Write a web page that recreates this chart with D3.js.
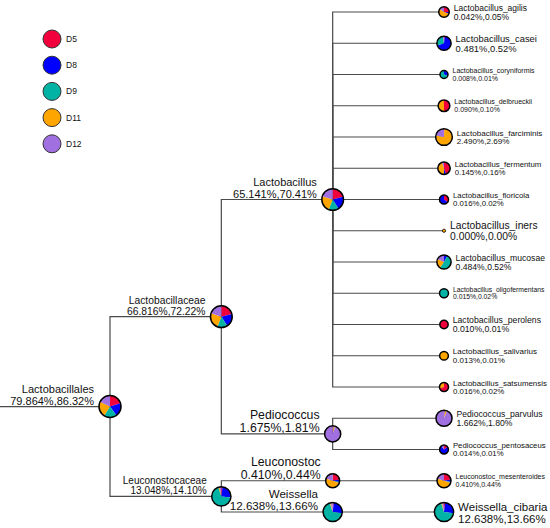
<!DOCTYPE html>
<html>
<head>
<meta charset="utf-8">
<script src="https://cdn.jsdelivr.net/npm/d3@7"></script>
<style>
  body { margin: 0; background: #fff; }
  svg { font-family: "Liberation Sans", Arial, sans-serif; }
</style>
</head>
<body>
<svg id="chart"></svg>
<script>
// sample groups (legend)
const samples = ["D5", "D8", "D9", "D11", "D12"];
const sampleColors = ["#f2003c", "#0000ff", "#00b3a4", "#ffa500", "#a070e0"];

// taxa of the tree, children listed in the order they are drawn
const taxa = [
  "Lactobacillales", "Lactobacillaceae", "Leuconostocaceae",
  "Lactobacillus", "Pediococcus", "Leuconostoc", "Weissella",
  "Lactobacillus_agilis", "Lactobacillus_casei", "Lactobacillus_coryniformis",
  "Lactobacillus_delbrueckii", "Lactobacillus_farciminis", "Lactobacillus_fermentum",
  "Lactobacillus_floricola", "Lactobacillus_iners", "Lactobacillus_mucosae",
  "Lactobacillus_oligofermentans", "Lactobacillus_perolens", "Lactobacillus_salivarius",
  "Lactobacillus_satsumensis", "Pediococcus_parvulus", "Pediococcus_pentosaceus",
  "Leuconostoc_mesenteroides", "Weissella_cibaria"
];
const parents = [
  "", "Lactobacillales", "Lactobacillales",
  "Lactobacillaceae", "Lactobacillaceae", "Leuconostocaceae", "Leuconostocaceae",
  "Lactobacillus", "Lactobacillus", "Lactobacillus",
  "Lactobacillus", "Lactobacillus", "Lactobacillus",
  "Lactobacillus", "Lactobacillus", "Lactobacillus",
  "Lactobacillus", "Lactobacillus", "Lactobacillus",
  "Lactobacillus", "Pediococcus", "Pediococcus",
  "Leuconostoc", "Weissella"
];
// first and second percentage in each label
const abundance = [
  79.864, 66.816, 13.048, 65.141, 1.675, 0.410, 12.638,
  0.042, 0.481, 0.008, 0.090, 2.490, 0.145, 0.016, 0.000, 0.484,
  0.015, 0.010, 0.013, 0.016, 1.662, 0.014, 0.410, 12.638
];
const relative = [
  86.32, 72.22, 14.10, 70.41, 1.81, 0.44, 13.66,
  0.05, 0.52, 0.01, 0.10, 2.69, 0.16, 0.02, 0.00, 0.52,
  0.02, 0.01, 0.01, 0.02, 1.80, 0.01, 0.44, 13.66
];

// share of each taxon coming from each sample (pie slices)
const shareD5  = [0.20, 0.21, 0.02, 0.21, 0.01, 0.22, 0.02, 0.25, 0.02, 0.00, 0.50, 0.01, 0.45, 0.35, 0, 0.00, 0, 1, 0, 0.70, 0.01, 0.15, 0.22, 0.02];
const shareD8  = [0.20, 0.20, 0.25, 0.20, 0.01, 0.06, 0.25, 0.05, 0.68, 0.30, 0.00, 0.00, 0.05, 0.65, 0, 0.08, 0, 0, 0, 0.00, 0.01, 0.75, 0.06, 0.25];
const shareD9  = [0.19, 0.15, 0.68, 0.15, 0.00, 0.02, 0.68, 0.00, 0.28, 0.70, 0.00, 0.00, 0.00, 0.00, 0, 0.52, 1, 0, 0, 0.00, 0.00, 0.00, 0.02, 0.68];
const shareD11 = [0.23, 0.24, 0.02, 0.24, 0.03, 0.50, 0.02, 0.55, 0.00, 0.00, 0.50, 0.77, 0.45, 0.00, 1, 0.22, 0, 0, 1, 0.30, 0.04, 0.00, 0.50, 0.02];
const shareD12 = [0.18, 0.20, 0.03, 0.20, 0.95, 0.20, 0.03, 0.15, 0.02, 0.00, 0.00, 0.22, 0.05, 0.00, 0, 0.18, 0, 0, 0, 0.00, 0.94, 0.10, 0.20, 0.03];

// label font sizes (px), as drawn in the original
const labelFont = {
  Lactobacillales: 11, Lactobacillaceae: 10.3, Leuconostocaceae: 10,
  Lactobacillus: 11, Pediococcus: 12.3, Leuconostoc: 12.3, Weissella: 11.6,
  Lactobacillus_agilis: 8.5, Lactobacillus_casei: 9.4, Lactobacillus_coryniformis: 7,
  Lactobacillus_delbrueckii: 7, Lactobacillus_farciminis: 8.1, Lactobacillus_fermentum: 7.8,
  Lactobacillus_floricola: 7.8, Lactobacillus_iners: 10.3, Lactobacillus_mucosae: 8.6,
  Lactobacillus_oligofermentans: 6.8, Lactobacillus_perolens: 8.7, Lactobacillus_salivarius: 8,
  Lactobacillus_satsumensis: 7.9, Pediococcus_parvulus: 8.6, Pediococcus_pentosaceus: 7.8,
  Leuconostoc_mesenteroides: 7, Weissella_cibaria: 11.5
};

const width = 550;
const height = 528;
const svg = d3.select("#chart").attr("width", width).attr("height", height);

const shares = [shareD5, shareD8, shareD9, shareD11, shareD12];
const rows = taxa.map((name, i) => ({
  name: name,
  parent: parents[i] || null,
  abundance: abundance[i],
  relative: relative[i],
  shares: shares.map((s) => s[i])
}));

const root = d3.stratify().id((d) => d.name).parentId((d) => d.parent)(rows);
d3.cluster().size([1, 1]).separation(() => 1)(root);

// scales
const yScale = d3.scaleLinear()
  .domain(d3.extent(root.leaves(), (d) => d.x))
  .range([12, 512]);
const xScale = d3.scaleLinear().domain([0, 1]).range([110, 444]);
const rScale = d3.scaleLog().domain([0.008, 80]).range([4, 11]).clamp(true);
const color = d3.scaleOrdinal().domain(samples).range(sampleColors);

const X = (d) => xScale(d.y);
const Y = (d) => yScale(d.x);
const R = (d) => (d.data.abundance > 0 ? rScale(d.data.abundance) : 1.6);
const pctA = d3.format(".3f");
const pctB = d3.format(".2f");

// links
const linkG = svg.append("g")
  .attr("fill", "none")
  .attr("stroke", "#4a4a4a")
  .attr("stroke-width", 1.2);

linkG.append("line")
  .attr("x1", 0)
  .attr("x2", X(root))
  .attr("y1", Y(root))
  .attr("y2", Y(root));

linkG.selectAll("path")
  .data(root.links())
  .join("path")
  .attr("d", (l) => `M${X(l.source)},${Y(l.source)}V${Y(l.target)}H${X(l.target)}`);

// pies
const pie = d3.pie().sort(null);
const arc = d3.arc().innerRadius(0);

const nodes = svg.append("g")
  .selectAll("g")
  .data(root.descendants())
  .join("g")
  .attr("transform", (d) => `translate(${X(d)},${Y(d)})`);

nodes.each(function (d) {
  const g = d3.select(this);
  const r = R(d);
  g.selectAll("path")
    .data(pie(d.data.shares).map((p, i) => ({ ...p, sample: samples[i] })).filter((p) => p.value > 0))
    .join("path")
    .attr("d", (p) => arc.outerRadius(r)(p))
    .attr("fill", (p) => color(p.sample));
  g.append("circle")
    .attr("r", r)
    .attr("fill", "none")
    .attr("stroke", "#000")
    .attr("stroke-width", d.data.abundance > 0 ? 1.5 : 0.8);
});

// labels: leaves to the right, inner nodes to the left above the branch
nodes.filter((d) => !d.children)
  .append("text")
  .attr("x", (d) => R(d) + 4.5)
  .attr("y", -1.5)
  .attr("font-size", (d) => labelFont[d.data.name])
  .attr("fill", "#111")
  .call((t) => {
    t.append("tspan").text((d) => d.data.name);
    t.append("tspan")
      .attr("x", (d) => R(d) + 4.5)
      .attr("dy", "1.08em")
      .text((d) => pctA(d.data.abundance) + "%," + pctB(d.data.relative) + "%");
  });

nodes.filter((d) => d.children)
  .append("text")
  .attr("text-anchor", "end")
  .attr("font-size", (d) => labelFont[d.data.name])
  .attr("fill", "#111")
  .call((t) => {
    t.append("tspan")
      .attr("x", (d) => -R(d) - 5)
      .attr("y", -2)
      .attr("dy", "-1.02em")
      .text((d) => d.data.name);
    t.append("tspan")
      .attr("x", (d) => -R(d) - 5)
      .attr("y", -2)
      .text((d) => pctA(d.data.abundance) + "%," + pctB(d.data.relative) + "%");
  });

// legend
const legend = svg.append("g")
  .selectAll("g")
  .data(samples)
  .join("g")
  .attr("transform", (d, i) => `translate(52,${39 + i * 26.2})`);

legend.append("circle")
  .attr("r", 9)
  .attr("fill", (d) => color(d))
  .attr("stroke", "#333")
  .attr("stroke-width", 1);

legend.append("text")
  .attr("x", 14)
  .attr("dy", "0.35em")
  .attr("font-size", 8.5)
  .attr("fill", "#111")
  .text((d) => d);
</script>
</body>
</html>
